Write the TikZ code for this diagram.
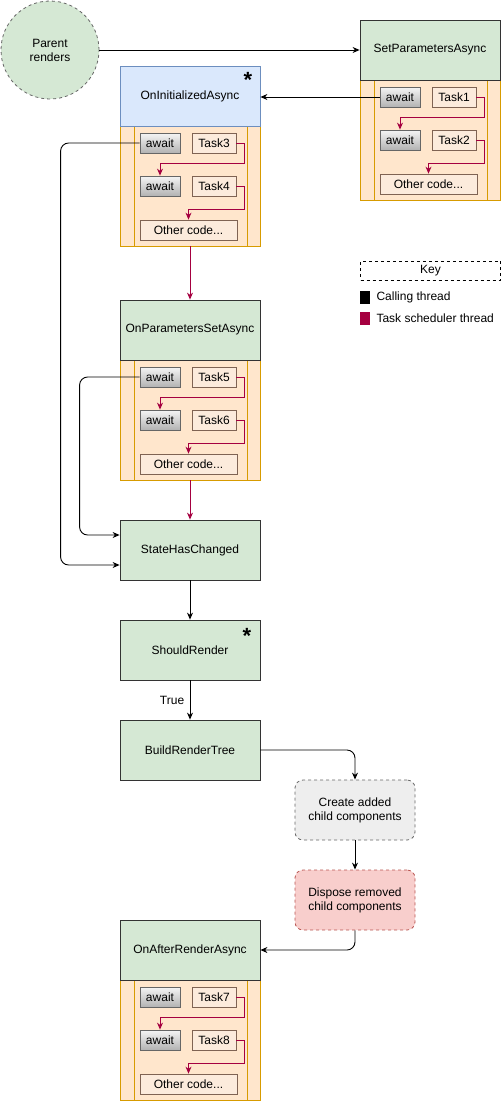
\documentclass[tikz,border=0pt]{standalone}
\usepackage{fontspec}
\setmainfont{Liberation Sans}
\usetikzlibrary{arrows.meta}
\usetikzlibrary{calc}

\definecolor{boxgreen}{HTML}{D5E8D4}
\definecolor{boxblue}{HTML}{DAE8FC}
\definecolor{edgeblue}{HTML}{6C8EBF}
\definecolor{edgegray}{HTML}{333333}
\definecolor{bodyorange}{HTML}{FFE6CC}
\definecolor{bodyedge}{HTML}{D79B00}
\definecolor{taskfill}{HTML}{FCEBDC}
\definecolor{taskedge}{HTML}{7F6353}
\definecolor{schedred}{HTML}{A50040}
\definecolor{createfill}{HTML}{EEEEEE}
\definecolor{disposefill}{HTML}{F8CECC}
\definecolor{disposeedge}{HTML}{B85450}

\tikzset{
    lifecycle/.style={draw=edgegray, fill=boxgreen, minimum width=140pt, minimum height=60pt, inner sep=0pt, line width=0.8pt},
    firstcall/.style={lifecycle, draw=edgeblue, fill=boxblue},
    body/.style={draw=bodyedge, fill=bodyorange, minimum width=140pt, minimum height=120pt, inner sep=0pt, line width=0.8pt},
    bodyline/.style={draw=bodyedge, line width=0.8pt},
    awaitbox/.style={draw=black!60, top color=black!4, bottom color=black!30, minimum width=40pt, minimum height=20pt, inner sep=0pt, line width=0.8pt},
    taskbox/.style={draw=taskedge, fill=taskfill, minimum width=44pt, minimum height=20pt, inner sep=0pt, line width=0.8pt},
    codebox/.style={taskbox, minimum width=97pt},
    call/.style={line width=0.9pt, -{Stealth[length=7pt, width=6pt]}},
    sched/.style={call, draw=schedred},
    asterisk/.style={font=\fontsize{22}{22}\bfseries, inner sep=0pt},
    rendering/.style={draw=black!60, dashed, rounded corners=8pt, minimum width=120pt, minimum height=60pt, align=center, line width=0.8pt},
}

\newcommand{\lifecycleblock}[7]{%
    \node[body] (#1-body) at (#2+70, #3+120) {};
    \draw[bodyline] (#2+14, #3+60) -- (#2+14, #3+180);
    \draw[bodyline] (#2+127, #3+60) -- (#2+127, #3+180);
    \node[#4] (#1) at (#2+70, #3+30) {#5};
    \node[awaitbox] (#1-a1) at (#2+40, #3+77) {await};
    \node[taskbox] (#1-t1) at (#2+94, #3+77) {Task#6};
    \node[awaitbox] (#1-a2) at (#2+40, #3+120) {await};
    \node[taskbox] (#1-t2) at (#2+94, #3+120) {Task#7};
    \node[codebox] (#1-oc) at (#2+68.5, #3+164) {Other code...};
    \draw[sched] (#1-t1.east) -- ++(8, 0) -- ++(0, 20) -| (#1-a2.north);
    \draw[sched] (#1-t2.east) -- ++(8, 0) -- ++(0, 23) -| (#1-oc.north);
}

\begin{document}
\begin{tikzpicture}[x=1pt, y=-1pt, font=\fontsize{12}{14}\selectfont]
    \useasboundingbox (0, 0) rectangle (501, 1101);

    \node[circle, draw=black!60, dashed, fill=boxgreen, minimum size=98pt, align=center, line width=0.8pt] (parent) at (50, 50) {Parent\\renders};

    \lifecycleblock{setparams}{360}{20}{lifecycle}{SetParametersAsync}{1}{2}
    \lifecycleblock{init}{120}{66}{firstcall}{OnInitializedAsync}{3}{4}
    \lifecycleblock{paramsset}{120}{300}{lifecycle}{OnParametersSetAsync}{5}{6}
    \lifecycleblock{afterrender}{120}{920}{lifecycle}{OnAfterRenderAsync}{7}{8}

    \node[asterisk] (init-mark) at (248, 80) {*};

    \node[lifecycle] (state) at (190, 550) {StateHasChanged};
    \node[lifecycle] (should) at (190, 650) {ShouldRender};
    \node[asterisk] (should-mark) at (247, 636) {*};
    \node[lifecycle] (build) at (190, 750) {BuildRenderTree};
    \node[rendering, fill=createfill] (create) at (355, 810) {Create added\\child components};
    \node[rendering, draw=disposeedge, fill=disposefill] (dispose) at (355, 900) {Dispose removed\\child components};

    % key
    \node[draw, dashed, minimum width=140pt, minimum height=19pt, inner sep=0pt, line width=0.8pt] (key) at (430.5, 270.5) {Key};
    \node[fill=black, minimum width=10pt, minimum height=13pt, inner sep=0pt] (key-call) at (365, 297.5) {};
    \node[anchor=west] (key-call-text) at (373, 297) {Calling thread};
    \node[fill=schedred, minimum width=10pt, minimum height=13pt, inner sep=0pt] (key-sched) at (365, 318.5) {};
    \node[anchor=west] (key-sched-text) at (373, 318) {Task scheduler thread};

    % calling thread
    \draw[call] (parent.east) -- (parent.east -| setparams.west);
    \draw[call] (setparams-a1.west) -- (setparams-a1.west -| init.east);
    \draw[call, rounded corners=8pt] (init-a1.west) -- ++(-79, 0) |- ([yshift=-15pt]state.west);
    \draw[call, rounded corners=8pt] (paramsset-a1.west) -- ++(-60, 0) |- ([yshift=15pt]state.west);
    \draw[call] (state.south) -- (should.north);
    \draw[call] (should.south) -- node[left, xshift=-2pt] {True} (build.north);
    \draw[call, rounded corners=8pt] (build.east) -| (create.north);
    \draw[call] (create.south) -- (dispose.north);
    \draw[call, rounded corners=8pt] (dispose.south) |- (afterrender.east);

    % task scheduler thread
    \draw[sched] (init-body.south) -- (paramsset.north);
    \draw[sched] (paramsset-body.south) -- (state.north);
\end{tikzpicture}
\end{document}
